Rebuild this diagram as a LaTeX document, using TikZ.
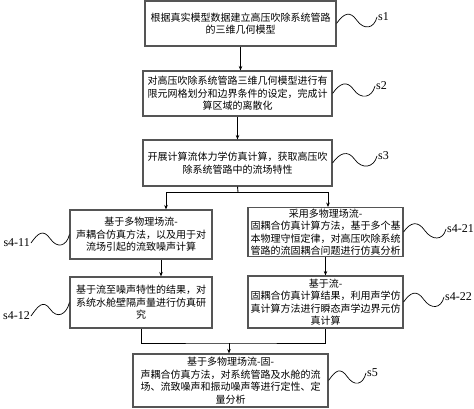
\documentclass[tikz,border=0pt]{standalone}
\usepackage{fontspec}
\setmainfont{Liberation Serif}
\newfontfamily\cjk{Noto Sans CJK SC}
\definecolor{boxgray}{RGB}{85,85,85}
\usetikzlibrary{arrows.meta}
\usetikzlibrary{positioning}
\usetikzlibrary{calc}

% wavy leader from #1 to #2
\newcommand{\wave}[2]{\draw[leader] (#1) .. controls +(7,-10) and +(-7,-10) .. ($(#1)!.5!(#2)$) .. controls +(7,10) and +(-3,12) .. (#2);}

\begin{document}
\begin{tikzpicture}[x=1pt,y=-1pt]
        \tikzset{every node/.style={inner sep=1pt},
                >={Stealth[black,length=4.5pt,width=3.5pt]},
                stepbox/.style={draw=boxgray, line width=1.1pt, align=center,
                        font=\cjk\fontsize{10}{12.5}\selectfont},
                lbl/.style={font=\fontsize{12}{14}\selectfont},
                leader/.style={draw=black, line width=0.7pt},
                flow/.style={draw=black, line width=0.9pt}}

        \useasboundingbox (0,0) rectangle (474,409);

        \node[stepbox, minimum width=191pt, minimum height=45pt] (b1) at (240.5, 23.5) {根据真实模型数据建立高压吹除系统管路\\的三维几何模型};
        \node[stepbox, minimum width=189pt, minimum height=45pt] (b2) at (237.5, 93.5) {对高压吹除系统管路三维几何模型进行有\\限元网格划分和边界条件的设定，完成计\\算区域的离散化};
        \node[stepbox, minimum width=189pt, minimum height=46pt] (b3) at (237.5, 163) {开展计算流体力学仿真计算，获取高压吹\\除系统管路中的流场特性};
        \node[stepbox, minimum width=142pt, minimum height=49pt] (b411) at (141, 234.5) {基于多物理场流-\\声耦合仿真方法，以及用于对\\流场引起的流致噪声计算};
        \node[stepbox, minimum width=155pt, minimum height=48pt] (b421) at (325.5, 232) {采用多物理场流-\\固耦合仿真计算方法，基于多个基\\本物理守恒定律，对高压吹除系统\\管路的流固耦合问题进行仿真分析};
        \node[stepbox, minimum width=142pt, minimum height=51pt] (b412) at (141, 302.5) {基于流至噪声特性的结果，对\\系统水舱壁隔声量进行仿真研\\究};
        \node[stepbox, minimum width=155pt, minimum height=52pt] (b422) at (325.5, 302) {基于流-\\固耦合仿真计算结果，利用声学仿\\真计算方法进行瞬态声学边界元仿\\真计算};
        \node[stepbox, minimum width=195pt, minimum height=53pt] (b5) at (230.5, 380.5) {基于多物理场流-固-\\声耦合仿真方法，对系统管路及水舱的流\\场、流致噪声和振动噪声等进行定性、定\\量分析};

        \node[lbl, anchor=west] (s1) at (377, 17) {s1};
        \node[lbl, anchor=west] (s2) at (375, 86) {s2};
        \node[lbl, anchor=west] (s3) at (377, 156) {s3};
        \node[lbl, anchor=east] (s411) at (31, 243) {s4-11};
        \node[lbl, anchor=east] (s412) at (31, 316) {s4-12};
        \node[lbl, anchor=west] (s421) at (446, 229) {s4-21};
        \node[lbl, anchor=west] (s422) at (444, 297) {s4-22};
        \node[lbl, anchor=west] (s5) at (366, 373) {s5};

        \coordinate (fork) at (238, 192);
        \coordinate (forkL) at (166, 192);
        \coordinate (forkR) at (328, 192);
        \coordinate (join) at (229, 343);

        \draw[flow, ->] (b1.south) -- (b1.south |- b2.north);
        \draw[flow, ->] (b2.south) -- (b2.south |- b3.north);
        \draw[flow] (b3.south) -- (fork);
        \draw[flow] (forkL) -- (forkR);
        \draw[flow, ->] (forkL) -- (forkL |- b411.north);
        \draw[flow, ->] (forkR) -- (forkR |- b421.north);
        \draw[flow, ->] ([xshift=20pt]b411.south) -- ([xshift=20pt]b411.south |- b412.north);
        \draw[flow, ->] (b421.south) -- (b421.south |- b422.north);
        \draw[flow] (b412.south) |- (join) -| (b422.south);
        \draw[flow, ->] (join) -- (join |- b5.north);

        \wave{b1.east}{s1.west}
        \wave{b2.east}{s2.west}
        \wave{b3.east}{s3.west}
        \wave{s411.east}{b411.west}
        \wave{s412.east}{b412.west}
        \wave{b421.east}{s421.west}
        \wave{b422.east}{s422.west}
        \wave{b5.east}{s5.west}

\end{tikzpicture}
\end{document}
